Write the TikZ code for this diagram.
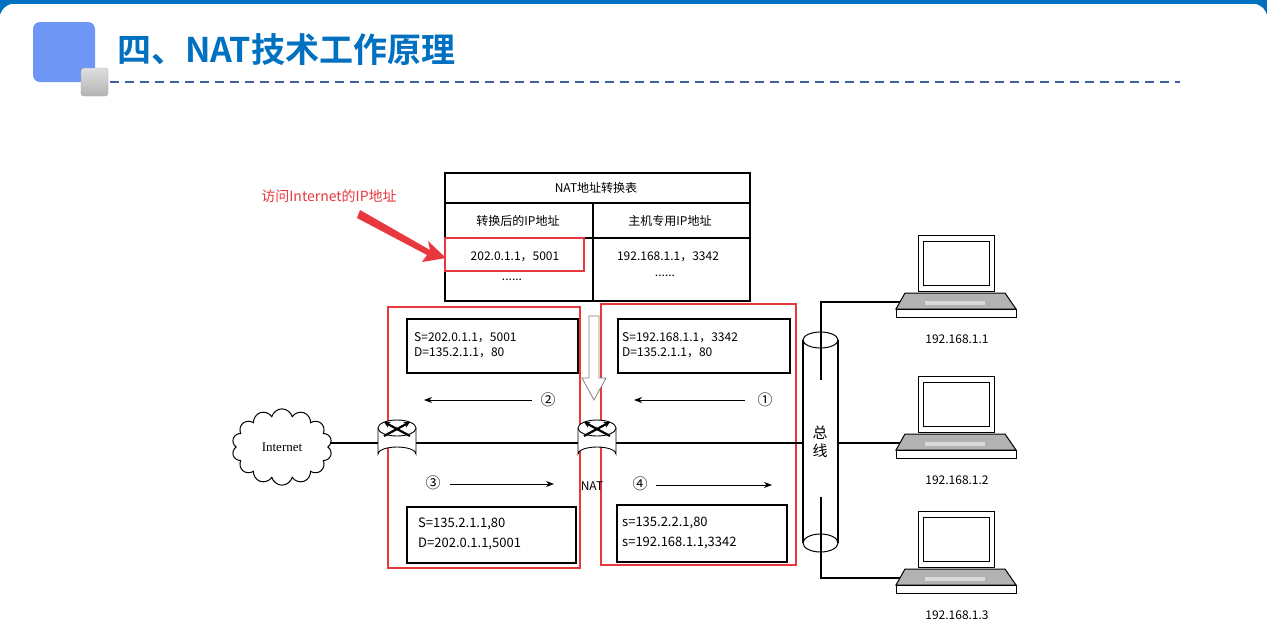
\documentclass[tikz,border=0pt]{standalone}
\usepackage{fontspec}
\setmainfont{Liberation Serif}
\newfontfamily\cjk{Noto Sans CJK SC}
\newfontfamily\cjkb{Noto Sans CJK SC Bold}
\usetikzlibrary{shapes.symbols,arrows.meta}
\definecolor{tblue}{HTML}{0070C0}
\definecolor{rbox}{HTML}{E8383D}
\tikzset{
 pkt/.style={draw=black,line width=1.6pt},
 redbox/.style={draw=rbox,line width=2pt},
 lbl/.style={font=\cjk\fontsize{12}{15}\selectfont,inner sep=0},
 flow/.style={-{Stealth[length=8pt,width=6pt]},line width=0.8pt},
 wire/.style={line width=1.8pt},
}
\begin{document}
\begin{tikzpicture}[x=1pt,y=-1pt]
\useasboundingbox (0,0) rectangle (1267,630);
\fill[tblue] (0,0) rectangle (1267,14);
\fill[white,rounded corners=14pt] (0,4) rectangle (1267,660);
\fill[white] (0,20) rectangle (1267,630);
\fill[white,rounded corners=14pt] (0,4) rectangle (1267,60);
% header
\fill[fill={rgb,255:red,109;green,150;blue,245},rounded corners=7pt] (33,22) rectangle (95,82);
\shade[top color=gray!25,bottom color=gray!60,draw=gray!70,rounded corners=3pt] (81,68) rectangle (108,96);
\node[anchor=west,text=tblue,font=\cjkb\fontsize{34}{40}\selectfont,inner sep=0] (title) at (117,50) {四、NAT技术工作原理};
\draw[dashed,dash pattern=on 9pt off 6pt,line width=1.3pt,color={rgb,255:red,63;green,95;blue,160}] (110,82) -- (1180,82);
% table
\node[draw,line width=1.6pt,minimum width=305,minimum height=128,anchor=north west,inner sep=0] (tbl) at (444,172) {};
\draw[line width=1.2pt] (444,203) -- (749,203) (444,238) -- (749,238) (593,203) -- (593,300);
\node[lbl] (th) at (596,188) {NAT地址转换表};
\node[lbl] (c1) at (518,221) {转换后的IP地址};
\node[lbl] (c2) at (670,221) {主机专用IP地址};
\node[lbl] (v1) at (515,257) {202.0.1.1，5001};
\node[lbl] (v2) at (668,257) {192.168.1.1，3342};
\node[lbl] (d1) at (512,280) {......};
\node[lbl] (d2) at (665,276) {......};
\draw[redbox] (445,238) rectangle (584,271);
\node[lbl,text=rbox,font=\cjk\fontsize{14}{16}\selectfont] (note) at (329,196) {访问Internet的IP地址};
\fill[rbox] (360,210) -- (430,250) -- (428,241) -- (446,258) -- (422,262) -- (427,255) -- (357,218) -- cycle;
% red groups
\draw[redbox] (388,307) rectangle (580,568);
\draw[redbox] (601,304) rectangle (796,565);
% packets
\node[pkt,minimum width=171,minimum height=54,anchor=north west] (p2) at (406,318) {};
\node[lbl,anchor=west,align=left] at (414,345) {S=202.0.1.1，5001\\D=135.2.1.1，80};
\node[pkt,minimum width=172,minimum height=54,anchor=north west] (p1) at (617,318) {};
\node[lbl,anchor=west,align=left] at (622,345) {S=192.168.1.1，3342\\D=135.2.1.1，80};
\node[pkt,minimum width=169,minimum height=56,anchor=north west] (p3) at (406,506) {};
\node[lbl,anchor=west,align=left,font=\cjk\fontsize{13}{20}\selectfont] at (418,534) {S=135.2.1.1,80\\D=202.0.1.1,5001};
\node[pkt,minimum width=170,minimum height=57,anchor=north west] (p4) at (616,504) {};
\node[lbl,anchor=west,align=left,font=\cjk\fontsize{13}{20}\selectfont] at (622,533) {s=135.2.2.1,80\\s=192.168.1.1,3342};
% hollow arrow
\draw[line width=0.8pt,fill=white,draw=gray] (589,316) -- (599,316) -- (599,378) -- (606,378) -- (594,400) -- (582,378) -- (589,378) -- cycle;
% flow arrows
\coordinate (a2s) at (532,400); \coordinate (a2e) at (424,400);
\coordinate (a1s) at (745,400); \coordinate (a1e) at (634,400);
\coordinate (a3s) at (450,484); \coordinate (a3e) at (554,484);
\coordinate (a4s) at (656,485); \coordinate (a4e) at (772,485);
\draw[flow] (a2s) -- (a2e); \draw[flow] (a1s) -- (a1e);
\draw[flow] (a3s) -- (a3e); \draw[flow] (a4s) -- (a4e);
\node[lbl,font=\cjk\fontsize{15}{15}\selectfont] (n2) at (548,400) {②};
\node[lbl,font=\cjk\fontsize{15}{15}\selectfont] (n1) at (765,400) {①};
\node[lbl,font=\cjk\fontsize{15}{15}\selectfont] (n3) at (433,483) {③};
\node[lbl,font=\cjk\fontsize{15}{15}\selectfont] (n4) at (640,484) {④};
% network
\node[cloud,draw,line width=1pt,cloud puffs=14,minimum width=100,minimum height=58,font=\fontsize{13}{14}\selectfont] (inet) at (282,447) {Internet};
\coordinate (ie) at (330,443);
\coordinate (r1) at (397,443); \coordinate (r2) at (597,443);
\coordinate (busl) at (803,443); \coordinate (busr) at (838,443);
\coordinate (lap2) at (910,443);
\draw[wire] (ie) -- (r1) -- (r2) -- (busl);
\draw[wire] (busr) -- (lap2);
\foreach \c in {397,597}{
  \draw[fill=white,line width=0.9pt] (\c-19,428) -- (\c-19,454) arc[start angle=180,end angle=360,x radius=19,y radius=7] -- (\c+19,428);
  \draw[fill=white,line width=0.9pt] (\c,428) ellipse[x radius=19,y radius=8];
  \draw[line width=2.2pt,-{Stealth[length=6pt,width=6pt]}] (\c-13,436) -- (\c+13,422);
  \draw[line width=2.2pt,-{Stealth[length=6pt,width=6pt]}] (\c+13,436) -- (\c-13,422);
}
\node[lbl] (natl) at (592,486) {NAT};
% bus cylinder
\draw[line width=1.4pt] (803,340) -- (803,543) (838,340) -- (838,543);
\draw[line width=1pt] (820.5,340) ellipse[x radius=17.5,y radius=8];
\draw[line width=1pt] (820.5,543) ellipse[x radius=17.5,y radius=9];
\node[lbl,font=\cjk\fontsize{15}{18}\selectfont,align=center] (bus) at (820,442) {总\\线};
\coordinate (lap1) at (910,302); \coordinate (lap3) at (910,578);
\draw[wire] (821,380) -- (821,302) -- (lap1);
\draw[wire] (821,497) -- (821,578) -- (lap3);
% laptops
\foreach \y/\ip in {235/192.168.1.1,376/192.168.1.2,511/192.168.1.3}{
  \draw[line width=1pt,fill=white] (918,\y) rectangle (994,\y+56);
  \draw[line width=0.8pt] (923,\y+6) rectangle (989,\y+50);
  \draw[line width=1pt,fill=gray!60] (905,\y+58) -- (1005,\y+58) -- (1016,\y+74) -- (896,\y+74) -- cycle;
  \draw[line width=1pt,fill=white] (896,\y+74) rectangle (1016,\y+82);
  \fill[gray!30] (925,\y+66) rectangle (985,\y+70);
  \node[lbl] at (957,\y+104) {\ip};
}
\end{tikzpicture}
\end{document}
